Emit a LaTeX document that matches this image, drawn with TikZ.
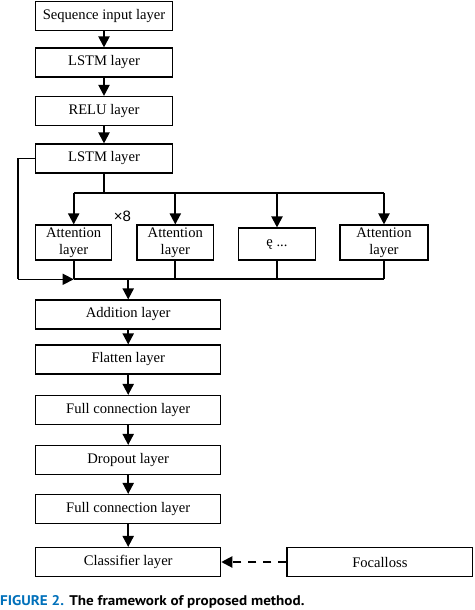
\documentclass[tikz,border=0pt]{standalone}
\usepackage{fontspec}
\setmainfont{Liberation Serif}
\newfontfamily\capfont{PT Sans}
\newfontfamily\labsans{Liberation Sans}
\usetikzlibrary{arrows.meta}
\definecolor{capblue}{RGB}{0,112,186}
\begin{document}
\begin{tikzpicture}[x=1pt,y=-1pt,
  layerbox/.style={draw, line width=1.1pt, inner sep=0pt, minimum height=29pt,
    font=\fontsize{14.6}{17}\selectfont, align=center},
  upbox/.style={layerbox, minimum width=136.3pt},
  lowbox/.style={layerbox, minimum width=185pt},
  attbox/.style={layerbox, minimum height=35pt},
  conn/.style={line width=2pt},
  arr/.style={conn, -{Triangle[width=11pt,length=11pt]}},
  dasharr/.style={line width=2pt, dash pattern=on 8pt off 7pt, -{Triangle[width=11pt,length=11pt]}},
]
\useasboundingbox (0,0) rectangle (474,610);
\node[upbox] (seq)  at (104,15.75) {Sequence input layer};
\node[upbox] (lstm1) at (104,62.5) {LSTM layer};
\node[upbox] (relu) at (104,111) {RELU layer};
\node[upbox] (lstm2) at (104,158.5) {LSTM layer};

\node[attbox, minimum width=76pt] (att1) at (73.7,242.5) {Attention\\layer};
\node[attbox, minimum width=76.7pt] (att2) at (175.3,242.5) {Attention\\layer};
\node[attbox, minimum width=76.6pt, minimum height=32pt] (att3) at (277,244) {ę ...};
\node[attbox, minimum width=88pt] (att4) at (384,242.5) {Attention\\layer};
\node[font=\labsans\fontsize{15}{15}\selectfont, inner sep=0pt] (times) at (122.5,216) {×8};

\node[lowbox] (add)  at (128.2,314.5) {Addition layer};
\node[lowbox] (flat) at (128.2,359.5) {Flatten layer};
\node[lowbox] (fc1)  at (128.2,410) {Full connection layer};
\node[lowbox] (drop) at (128.2,460) {Dropout layer};
\node[lowbox] (fc2)  at (128.2,509) {Full connection layer};
\node[lowbox] (cls)  at (128.2,562) {Classifier layer};
\node[layerbox, minimum width=185.7pt] (focal) at (379.85,562) {Focalloss};

\coordinate (bt) at (104,193.3);
\coordinate (bl) at (18,279.3);
\coordinate (bm) at (128.2,279.3);

\draw[arr] (seq) -- (lstm1);
\draw[arr] (lstm1) -- (relu);
\draw[arr] (relu) -- (lstm2);
\draw[conn] (lstm2.south) -- (bt);
\draw[conn] (att1.north |- bt) -- (att4.north |- bt);
\draw[arr] (att1.north |- bt) -- (att1.north);
\draw[arr] (att2.north |- bt) -- (att2.north);
\draw[arr] (att3.north |- bt) -- (att3.north);
\draw[arr] (att4.north |- bt) -- (att4.north);

\draw[conn] (att1.south) -- (att1.south |- bm);
\draw[conn] (att2.south) -- (att2.south |- bm);
\draw[conn] (att3.south) -- (att3.south |- bm);
\draw[conn] (att4.south) -- (att4.south |- bm);
\draw[conn] (att1.south |- bm) -- (att4.south |- bm);
\draw[line width=1.6pt] (lstm2.west) -| (bl);
\draw[arr, line width=1.6pt] (bl) -- (att1.south |- bm);
\draw[arr] (bm) -- (add.north);

\draw[arr] (add) -- (flat);
\draw[arr] (flat) -- (fc1);
\draw[arr] (fc1) -- (drop);
\draw[arr] (drop) -- (fc2);
\draw[arr] (fc2) -- (cls);
\draw[dasharr] (focal.west) -- (cls.east);

\node[anchor=base west, inner sep=0pt, font=\capfont\bfseries\fontsize{14}{14}\selectfont] (cap) at (0,605)
  {\scalebox{1.08}[1]{\textcolor{capblue}{FIGURE 2.}\hspace{5pt}The framework of proposed method.}};
\end{tikzpicture}
\end{document}
